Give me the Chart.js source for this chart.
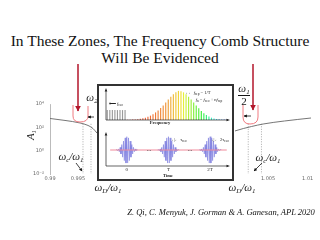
<!DOCTYPE html>
<html>
<head>
<meta charset="utf-8">
<script src="https://cdn.jsdelivr.net/npm/chart.js@4.4.1/dist/chart.umd.min.js"></script>
<style>
    body { margin: 0; width: 320px; height: 240px; background: #fff; position: relative; overflow: hidden; font-family: "Liberation Serif", serif; }
    canvas { position: absolute; }
    .t { position: absolute; white-space: nowrap; transform: translate(-50%, -50%); line-height: 1; color: #111; }
    .m { font-style: italic; font-size: 11px; color: #222; }
    .m sub { font-size: 7px; vertical-align: -2px; }
    .tiny { font-size: 4.5px; color: #222; }
    .tiny sub { font-size: 3.5px; vertical-align: -1px; }
    #box { position: absolute; left: 97px; top: 84px; width: 137px; height: 97px; border: 2px solid #333; box-sizing: border-box; background: #fff; }
    svg { position: absolute; left: 0; top: 0; }
</style>
</head>
<body>
<div class="t" style="left:160px;top:41px;font-size:15.5px">In These Zones, The Frequency Comb Structure</div>
<div class="t" style="left:160px;top:58px;font-size:15.5px">Will Be Evidenced</div>

<canvas id="leftChart" width="100" height="130" style="left:0;top:60px"></canvas>
<canvas id="rightChart" width="90" height="130" style="left:230px;top:60px"></canvas>
<div id="box"></div>
<canvas id="combChart" width="134" height="44" style="left:98px;top:86px"></canvas>
<canvas id="pulseChart" width="134" height="48" style="left:98px;top:131px"></canvas>

<svg width="320" height="240">
    <defs>
        <marker id="rh" viewBox="0 0 10 10" refX="9" refY="5" markerWidth="4" markerHeight="4" orient="auto">
            <path d="M0 0 L10 5 L0 10 z" fill="#b3162b"/>
        </marker>
        <marker id="bh" viewBox="0 0 10 10" refX="9" refY="5" markerWidth="4" markerHeight="4" orient="auto">
            <path d="M0 0 L10 5 L0 10 z" fill="#111"/>
        </marker>
    </defs>
    <!-- zone markers -->
    <path d="M73 105 L73 116 Q73 122 80 122 Q88 122 88 116 L88 106" fill="none" stroke="#f07a80" stroke-width="1"/>
    <path d="M243 105 L243 117 Q243 124 250 124 Q258 124 258 117 L258 105" fill="none" stroke="#f07a80" stroke-width="1"/>
    <line x1="78" y1="64" x2="78" y2="111" stroke="#b3162b" stroke-width="1.5" marker-end="url(#rh)"/>
    <line x1="253" y1="64" x2="253" y2="110" stroke="#b3162b" stroke-width="1.5" marker-end="url(#rh)"/>
    <line x1="94" y1="117" x2="88" y2="117" stroke="#111" stroke-width="0.8" marker-end="url(#bh)"/>
    <line x1="251" y1="116" x2="244" y2="116" stroke="#111" stroke-width="0.8" marker-end="url(#bh)"/>
    <line x1="76" y1="163" x2="82" y2="171" stroke="#111" stroke-width="0.8" marker-end="url(#bh)"/>
    <line x1="262" y1="163" x2="254" y2="171" stroke="#111" stroke-width="0.8" marker-end="url(#bh)"/>
</svg>

<div class="t m" style="left:92px;top:98px">ω<sub>2</sub></div>
<div class="t m" style="left:244px;top:89px">ω<sub>1</sub></div>
<div style="position:absolute;left:238px;top:95px;width:12px;border-top:1px solid #111"></div>
<div class="t" style="left:244px;top:101px;font-size:11px">2</div>
<div class="t m" style="left:71px;top:157px">ω<sub>c</sub>/ω<sub>1</sub></div>
<div class="t m" style="left:268px;top:158px">ω<sub>c</sub>/ω<sub>1</sub></div>
<div class="t m" style="left:108px;top:188px">ω<sub>D</sub>/ω<sub>1</sub></div>
<div class="t m" style="left:242px;top:188px">ω<sub>D</sub>/ω<sub>1</sub></div>
<div class="t m" style="left:31px;top:135px;transform:translate(-50%,-50%) rotate(-90deg)">A<sub>1</sub></div>

<div class="t tiny" style="left:116px;top:105px">⟵ <i>f</i><sub>ceo</sub></div>
<div class="t tiny" style="left:197px;top:94px">→← <i>f</i><sub>rep</sub> = 1/T</div>
<div class="t tiny" style="left:209px;top:101px"><i>f</i><sub>n</sub> = <i>f</i><sub>ceo</sub> + n<i>f</i><sub>rep</sub></div>
<div class="t tiny" style="left:160px;top:123px;font-weight:bold">Frequency</div>
<div class="t tiny" style="left:178px;top:141px">→|← τ<sub>ceo</sub></div>
<div class="t tiny" style="left:219px;top:141px">→|← 2τ<sub>ceo</sub></div>
<div class="t tiny" style="left:149px;top:151px">- -</div>
<div class="t tiny" style="left:190px;top:151px">- -</div>
<div class="t tiny" style="left:168px;top:176px;font-weight:bold">Time</div>

<div class="t" style="left:221px;top:212px;font-size:8.5px;font-style:italic">Z. Qi, C. Menyuk, J. Gorman &amp; A. Ganesan, APL 2020</div>

<script>
    // ---- data ----
    const yTicks = [1e-2, 1, 1e2, 1e4];
    const yTickLabels = ['10⁻²', '10⁰', '10²', '10⁴'];

    const leftX = [0.9900, 0.99268, 0.99536, 0.99679, 0.99768, 0.99839];
    const leftA = [575, 390, 236, 145, 79, 32];
    const leftXTicks = [0.99, 0.995];
    const leftMarks = [0.99589, 0.99732];

    const rightX = [1.00083, 1.00188, 1.00292, 1.00438, 1.00708, 1.01042];
    const rightA = [49, 79, 118, 193, 350, 630];
    const rightXTicks = [1.005, 1.01];
    const rightMarks = [1.0025, 1.00417];

    const markTop = 200;

    // frequency comb line heights (first 8 are the grey reference lines)
    const combHeights = [
        0.34, 0.34, 0.34, 0.34, 0.34, 0.34, 0.34, 0.34,
        0.005, 0.01, 0.015, 0.02, 0.03, 0.04, 0.06, 0.08, 0.11, 0.15,
        0.2, 0.26, 0.33, 0.41, 0.5, 0.6, 0.7, 0.8, 0.88, 0.95,
        1.0, 0.99, 0.95, 0.88, 0.8, 0.7, 0.6, 0.5, 0.4, 0.31,
        0.23, 0.17, 0.12, 0.08, 0.05, 0.035, 0.025, 0.02, 0.015, 0.01
    ];
    const greyLines = 8;

    // one pulse (offset in units of T, field amplitude), repeated at each period
    const pulseOffsets = [
        -0.26, -0.24, -0.22, -0.20, -0.18, -0.16, -0.14, -0.12, -0.10, -0.08, -0.06, -0.04, -0.02, 0,
        0.02, 0.04, 0.06, 0.08, 0.10, 0.12, 0.14, 0.16, 0.18, 0.20, 0.22, 0.24, 0.26
    ];
    const pulseField = [
        0, 0.03, -0.05, 0.08, -0.13, 0.2, -0.3, 0.41, -0.54, 0.67, -0.8, 0.91, -0.98, 1.0,
        -0.98, 0.91, -0.8, 0.67, -0.54, 0.41, -0.3, 0.2, -0.13, 0.08, -0.05, 0.03, 0
    ];
    const pulseCenters = [0, 1, 2];
    const timeTicks = [0, 1, 2];
    const timeTickLabels = ['0', 'T', '2T'];
    const baselineX = [-0.4, 2.4];

    // ---- helpers ----
    const pts = (xs, ys) => xs.map((x, i) => ({ x, y: ys[i] }));
    const base = { animation: false, responsive: false, plugins: { legend: { display: false }, tooltip: { enabled: false } } };
    const tickFont = { family: 'DejaVu Sans', size: 5 };

    function markSets(marks) {
        return marks.map(m => ({
            data: pts([m, m], [markTop, 0.01]),
            borderColor: '#888', borderWidth: 0.7, borderDash: [1, 1.5], pointRadius: 0
        }));
    }

    function curveSet(xs, ys) {
        return { data: pts(xs, ys), borderColor: '#666', borderWidth: 0.9, pointRadius: 0, cubicInterpolationMode: 'monotone' };
    }

    function yScale(show) {
        return {
            type: 'logarithmic', min: 1e-2, max: 1e4, display: show,
            afterBuildTicks: s => { s.ticks = yTicks.map(v => ({ value: v })); },
            afterFit: s => { s.width = show ? 50 : 0; },
            ticks: { font: tickFont, color: '#666', padding: 6, callback: v => yTickLabels[yTicks.indexOf(v)] },
            grid: { display: false, drawTicks: false },
            border: { display: show, color: '#aaa', width: 0.8 }
        };
    }

    function xScale(min, max, ticks) {
        return {
            type: 'linear', min, max,
            afterBuildTicks: s => { s.ticks = ticks.map(v => ({ value: v })); },
            afterFit: s => { s.height = 16; },
            ticks: { font: tickFont, color: '#666', padding: 2, callback: v => String(v) },
            grid: { display: false, drawTicks: false },
            border: { display: false }
        };
    }

    // ---- main left / right panels ----
    new Chart(document.getElementById('leftChart'), {
        type: 'line',
        data: { datasets: [curveSet(leftX, leftA), ...markSets(leftMarks)] },
        options: {
            ...base,
            layout: { padding: { top: 44, right: 3, left: 0, bottom: 0 } },
            scales: { x: xScale(0.99, 0.99839, leftXTicks), y: yScale(true) }
        }
    });

    new Chart(document.getElementById('rightChart'), {
        type: 'line',
        data: { datasets: [curveSet(rightX, rightA), ...markSets(rightMarks)] },
        options: {
            ...base,
            layout: { padding: { top: 44, right: 9, left: 5, bottom: 0 } },
            scales: { x: xScale(1.00083, 1.01042, rightXTicks), y: yScale(false) }
        }
    });

    // ---- inset: axes with arrow heads ----
    const arrowAxes = {
        id: 'arrowAxes',
        afterDatasetsDraw(chart) {
            const { ctx, chartArea: a } = chart;
            ctx.save();
            ctx.strokeStyle = '#222';
            ctx.fillStyle = '#222';
            ctx.lineWidth = 0.7;
            ctx.beginPath();
            ctx.moveTo(a.left, a.bottom);
            ctx.lineTo(a.left, a.top);
            ctx.moveTo(a.left, a.bottom);
            ctx.lineTo(a.right, a.bottom);
            ctx.stroke();
            ctx.beginPath();
            ctx.moveTo(a.left, a.top - 2);
            ctx.lineTo(a.left - 1.3, a.top + 1.5);
            ctx.lineTo(a.left + 1.3, a.top + 1.5);
            ctx.closePath();
            ctx.moveTo(a.right + 2, a.bottom);
            ctx.lineTo(a.right - 1.5, a.bottom - 1.3);
            ctx.lineTo(a.right - 1.5, a.bottom + 1.3);
            ctx.closePath();
            ctx.fill();
            ctx.restore();
        }
    };

    // colour of each comb line, red -> orange -> yellow -> green -> blue
    const hueStops = [[8, 0], [23, 30], [29, 55], [37, 120], [47, 230]];
    function combColor(c) {
        const i = c.dataIndex;
        if (i < greyLines) return '#9a9a9a';
        for (let k = 1; k < hueStops.length; k++) {
            const [i0, h0] = hueStops[k - 1];
            const [i1, h1] = hueStops[k];
            if (i <= i1) return `hsl(${h0 + (h1 - h0) * (i - i0) / (i1 - i0)}, 85%, 58%)`;
        }
        return 'hsl(230, 85%, 60%)';
    }

    new Chart(document.getElementById('combChart'), {
        type: 'bar',
        data: {
            labels: combHeights.map((_, i) => i),
            datasets: [{ data: combHeights, backgroundColor: combColor, barPercentage: 0.45, categoryPercentage: 1 }]
        },
        options: {
            ...base,
            layout: { padding: { top: 4, right: 4, left: 8, bottom: 10 } },
            scales: {
                x: { display: false },
                y: { display: false, min: 0, max: 1.03 }
            }
        },
        plugins: [arrowAxes]
    });

    const pulseSets = pulseCenters.map(c => ({
        data: pts(pulseOffsets.map(o => o + c), pulseField),
        borderColor: 'rgba(95,95,215,0.85)', borderWidth: 0.5,
        backgroundColor: 'rgba(125,125,230,0.6)', fill: 'origin', pointRadius: 0
    }));

    new Chart(document.getElementById('pulseChart'), {
        type: 'line',
        data: {
            datasets: [
                { data: pts(baselineX, [0, 0]), borderColor: '#f08a9a', borderWidth: 1, pointRadius: 0 },
                ...pulseSets
            ]
        },
        options: {
            ...base,
            layout: { padding: { top: 3, right: 4, left: 8, bottom: 5 } },
            scales: {
                x: {
                    type: 'linear', min: -0.5, max: 2.43,
                    afterBuildTicks: s => { s.ticks = timeTicks.map(v => ({ value: v })); },
                    afterFit: s => { s.height = 8; },
                    ticks: { font: { family: 'Liberation Serif', size: 5 }, color: '#222', padding: 1, callback: v => timeTickLabels[timeTicks.indexOf(v)] },
                    grid: { display: false, drawTicks: false },
                    border: { display: false }
                },
                y: { display: false, min: -1.2, max: 1.2 }
            }
        },
        plugins: [arrowAxes]
    });
</script>
</body>
</html>
